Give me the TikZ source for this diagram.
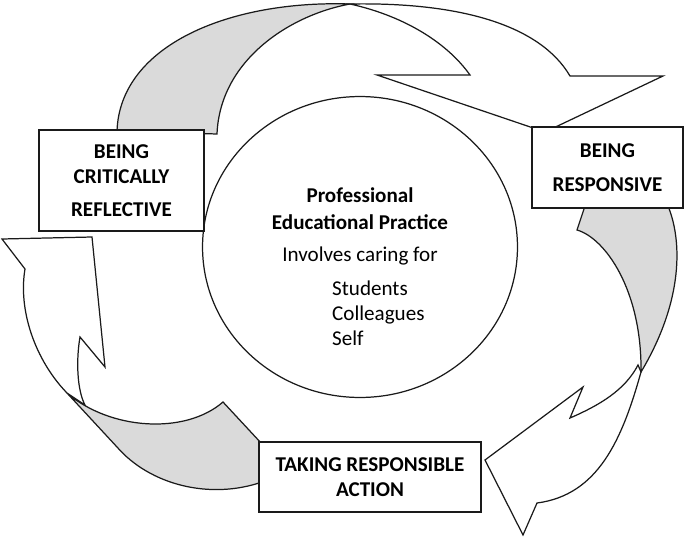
\documentclass[tikz,border=0pt]{standalone}
\usepackage{fontspec}
\setmainfont{Carlito}
\usetikzlibrary{shapes.geometric}
\definecolor{cycLine}{HTML}{1A1A1A}
\definecolor{cycBack}{HTML}{DADADA}
\tikzset{
  cyclefig/.style={
    x=0.02cm, y=-0.02cm,
    every node/.append style={font=\fontsize{12}{14.2}\selectfont},
  },
  ribbon/.style={draw=cycLine, line width=0.7pt, fill=white},
  % Rueckseite des verdrehten Bandes: grau gefuellt.
  ribbonback/.style={ribbon, fill=cycBack},
  stagebox/.style={
    draw=cycLine, line width=0.7pt, fill=white, align=center, inner sep=0pt,
    font=\fontsize{12}{14.2}\selectfont\bfseries,
  },
  hub/.style={draw=cycLine, line width=0.7pt, ellipse, minimum width=6.3cm, minimum height=6.02cm},
}

\begin{document}
\begin{tikzpicture}[cyclefig]
  \useasboundingbox (0,0) rectangle (685,537);
  % Pfeil oben: reflektierend -> responsiv
  \filldraw[ribbonback] (117,131) .. controls (120,45) and (230,0) .. (350,4)
    .. controls (290,15) and (220,60) .. (217,134) -- cycle;
  \filldraw[ribbon] (350,4) .. controls (460,2) and (540,25) .. (570,76)
    -- (663,76) -- (545,132) -- (377,75) -- (470,75)
    .. controls (445,40) and (400,15) .. (350,4) -- cycle;
  % Pfeil rechts: responsiv -> Handeln
  \filldraw[ribbonback] (585,206) -- (577,230) .. controls (605,238) and (642,290) .. (641,372)
    .. controls (684,300) and (682,240) .. (668,206) -- cycle;
  \filldraw[ribbon] (641,372) .. controls (622,440) and (598,495) .. (537,503)
    -- (523,535) -- (485,460) -- (583,387) -- (570,418)
    .. controls (600,405) and (625,390) .. (638,365) -- cycle;
  % Pfeil links: Handeln -> reflektierend
  \filldraw[ribbonback] (67,393) -- (117,447) .. controls (150,485) and (210,500) .. (262,482)
    -- (262,444) -- (223,402) .. controls (185,435) and (110,430) .. (67,393) -- cycle;
  \filldraw[ribbon] (67,393) .. controls (35,360) and (18,310) .. (25,269)
    -- (2,239) -- (92,237) -- (105,367) -- (80,337)
    .. controls (76,360) and (77,390) .. (85,405) -- cycle;

  \node[hub] (practice) at (360,247) {};
  \node[font=\fontsize{12}{15.4}\selectfont\bfseries, align=center] (title) at (360,209) {Professional\\Educational Practice};
  \node (caring) at (360,256) {Involves caring for};
  \node[align=left, anchor=west] (who) at (326,313) {Students\\Colleagues\\Self};

  \node[stagebox, minimum width=3.3cm, minimum height=2.02cm] (reflective) at (121.5,180.5) {BEING\\CRITICALLY\\[4.5pt]REFLECTIVE};
  \node[stagebox, minimum width=3.02cm, minimum height=1.62cm] (responsive) at (607.5,167.5) {BEING\\[5pt]RESPONSIVE};
  \node[stagebox, minimum width=4.44cm, minimum height=1.4cm] (action) at (370,477) {TAKING RESPONSIBLE\\ACTION};
\end{tikzpicture}
\end{document}
